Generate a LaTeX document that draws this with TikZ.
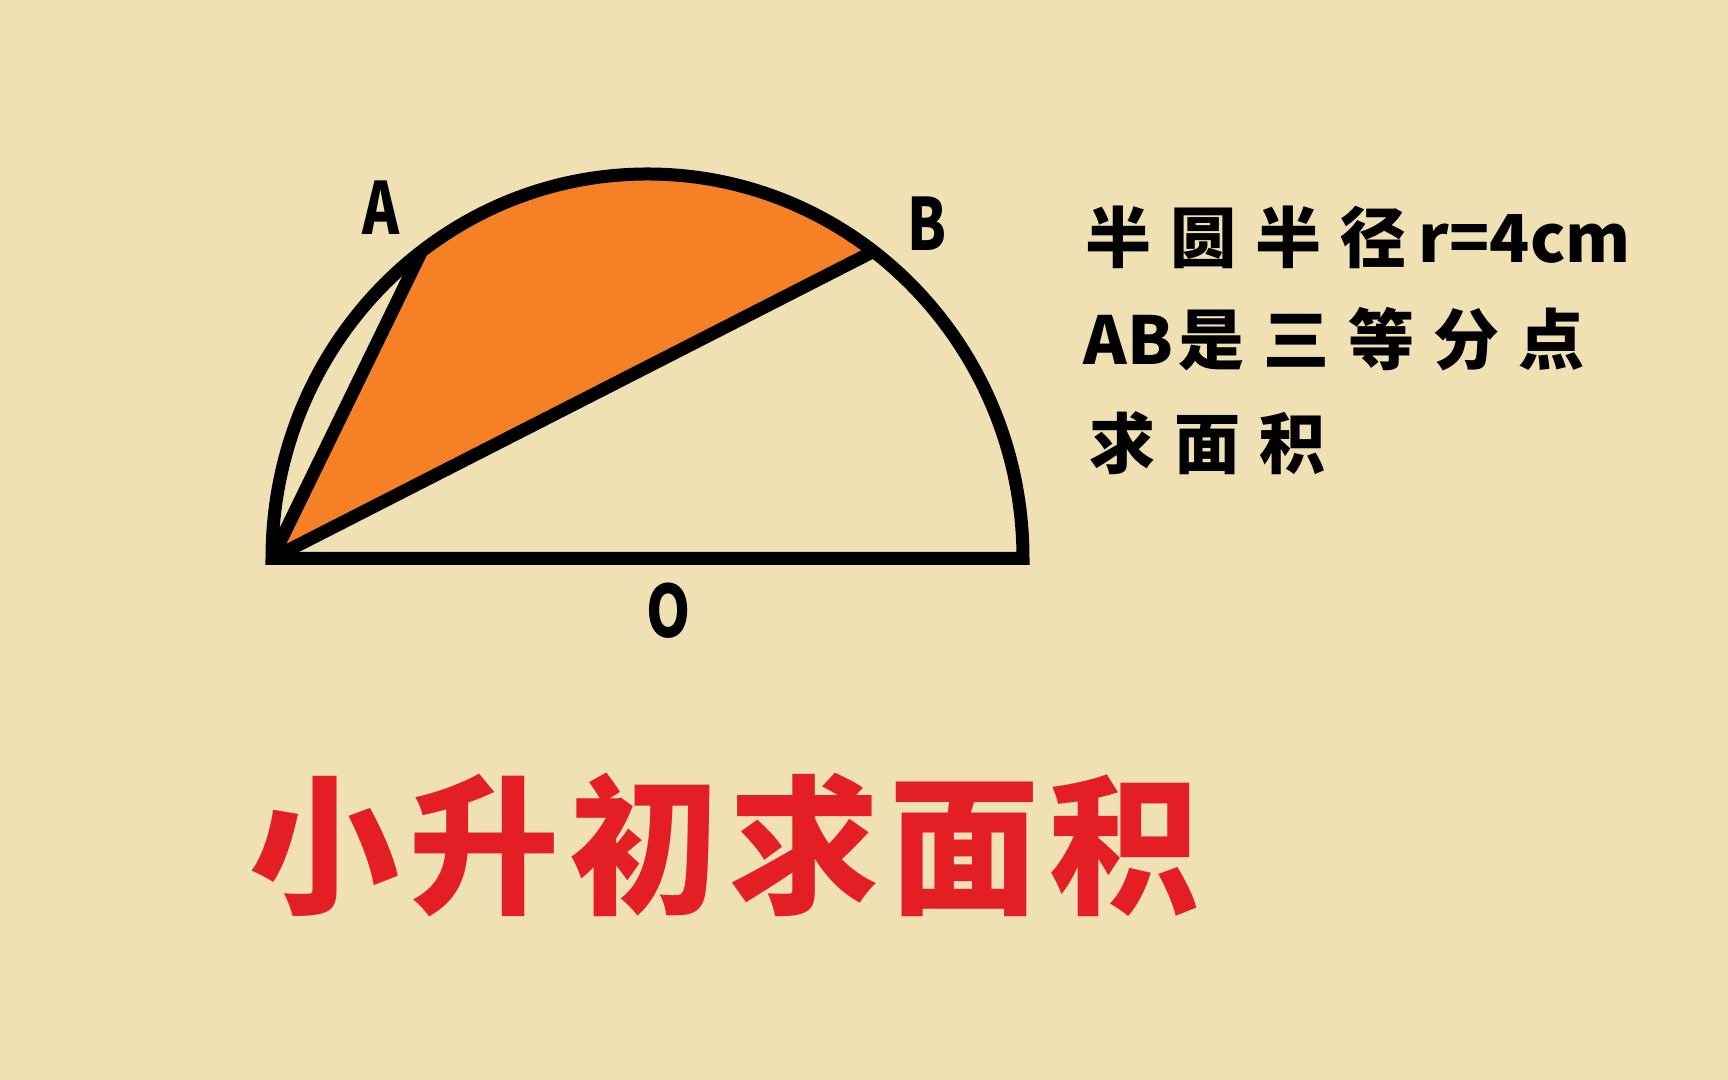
\documentclass[tikz,border=0pt]{standalone}
\usepackage{fontspec}
\setmainfont{Noto Sans CJK SC}
\newfontfamily\cjk{Noto Sans CJK SC}
\definecolor{bg}{RGB}{240,225,181}
\definecolor{orangefill}{RGB}{246,128,38}
\definecolor{titlered}{RGB}{227,30,36}
\newcommand{\cg}{\hspace{1.9mm}}
\tikzset{
  outline/.style={line width=0.13cm, black, line join=miter},
  ptlabel/.style={inner sep=0pt, font=\cjk\bfseries\fontsize{20.5pt}{21pt}\selectfont, xscale=0.78, transform shape},
  infotext/.style={inner sep=0pt, anchor=west, font=\cjk\bfseries\fontsize{18.8pt}{20pt}\selectfont},
  titletext/.style={inner sep=0pt, text=titlered, font=\cjk\bfseries\fontsize{42.7pt}{44pt}\selectfont}
}
\begin{document}
\begin{tikzpicture}
\useasboundingbox (0,0) rectangle (17.28,10.8);
\fill[bg] (0,0) rectangle (17.28,10.8);
\coordinate (C) at (6.475,5.215);
\coordinate (P) at (2.72,5.215);
\coordinate (A) at (4.215,8.286);
\coordinate (B) at (8.735,8.286);
% shaded region
\fill[orangefill] (P) -- (A) arc[start angle=127,end angle=53,x radius=3.755,y radius=3.845] -- cycle;
% semicircle
\draw[outline] (P) arc[start angle=180,end angle=0,x radius=3.755,y radius=3.845] -- cycle;
\draw[outline] (P) -- (A);
\draw[outline] (P) -- (B);
% labels
\node[ptlabel] (lA) at (3.81,8.72) {A};
\node[ptlabel] (lB) at (9.27,8.56) {B};
\node[ptlabel] (lO) at (6.69,4.69) {O};
% info text
\node[infotext] (t1) at (10.85,8.43) {半\cg 圆\cg 半\cg 径\hspace{1.2mm}r=4cm};
\node[infotext] (t2) at (10.83,7.41) {AB\hspace{0.5mm}是\cg 三\cg 等\cg 分\cg 点};
\node[infotext] (t3) at (10.89,6.37) {求\cg 面\cg 积};
% title
\node[titletext] (title) at (7.245,2.35) {小\hspace{1mm}升\hspace{1mm}初\hspace{1mm}求\hspace{1mm}面\hspace{1mm}积};
\end{tikzpicture}
\end{document}
